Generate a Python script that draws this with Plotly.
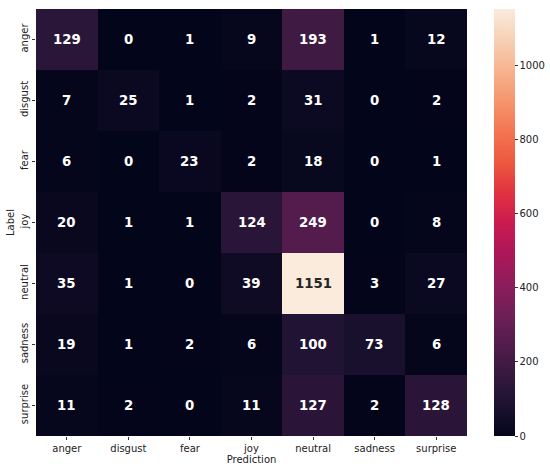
import plotly.graph_objects as go

labels = ["anger", "disgust", "fear", "joy", "neutral", "sadness", "surprise"]
matrix = [
    [129, 0, 1, 9, 193, 1, 12],
    [7, 25, 1, 2, 31, 0, 2],
    [6, 0, 23, 2, 18, 0, 1],
    [20, 1, 1, 124, 249, 0, 8],
    [35, 1, 0, 39, 1151, 3, 27],
    [19, 1, 2, 6, 100, 73, 6],
    [11, 2, 0, 11, 127, 2, 128],
]
cbar_ticks = [0, 200, 400, 600, 800, 1000]

rocket = [
    [0.0, "#03051a"],
    [0.0714, "#1c1130"],
    [0.1429, "#35193e"],
    [0.2143, "#521c4c"],
    [0.2857, "#701f57"],
    [0.3571, "#8e1d5b"],
    [0.4286, "#ad1759"],
    [0.5, "#cb1b4f"],
    [0.5714, "#e13342"],
    [0.6429, "#ed5a3f"],
    [0.7143, "#f37651"],
    [0.7857, "#f5966d"],
    [0.8571, "#f6b48f"],
    [0.9286, "#f7d0b5"],
    [1.0, "#faebdd"],
]

vmax = max(max(r) for r in matrix)

fig = go.Figure(go.Heatmap(
    z=matrix, x=labels, y=labels, colorscale=rocket, zmin=0, zmax=vmax,
    colorbar=dict(
        x=1.0626, xanchor="left", xpad=0, y=0.5, yanchor="middle", ypad=0,
        len=1.0, lenmode="fraction", thickness=21, outlinewidth=0,
        tickvals=cbar_ticks, ticks="outside", ticklen=3, tickcolor="#333",
        tickfont=dict(family="DejaVu Sans", size=10, color="#222"),
    ),
))

annotations = []
for i, row in enumerate(matrix):
    for j, v in enumerate(row):
        color = "#262626" if v / vmax > 0.6 else "white"
        annotations.append(dict(
            x=labels[j], y=labels[i], text=f"<b>{v}</b>", showarrow=False,
            font=dict(family="DejaVu Sans", size=13.3, color=color),
        ))

fig.update_layout(
    width=550, height=473,
    margin=dict(l=36, r=83, t=9, b=37, autoexpand=False),
    paper_bgcolor="white", plot_bgcolor="white",
    annotations=annotations,
    font=dict(family="DejaVu Sans", size=10, color="#222"),
    xaxis=dict(
        title=dict(text="Prediction", font=dict(size=10), standoff=0),
        ticks="outside", ticklen=3, tickcolor="#333", showgrid=False,
        tickfont=dict(size=10), zeroline=False, automargin=False,
    ),
    yaxis=dict(
        title=dict(text="Label", font=dict(size=10), standoff=2),
        autorange="reversed", ticks="outside", ticklen=3, tickcolor="#333",
        tickangle=-90, showgrid=False, tickfont=dict(size=10), zeroline=False,
        automargin=False,
    ),
)

fig.write_html(
    "out.html",
    config={"displayModeBar": False},
    post_script="document.body.style.margin='0';",
)
